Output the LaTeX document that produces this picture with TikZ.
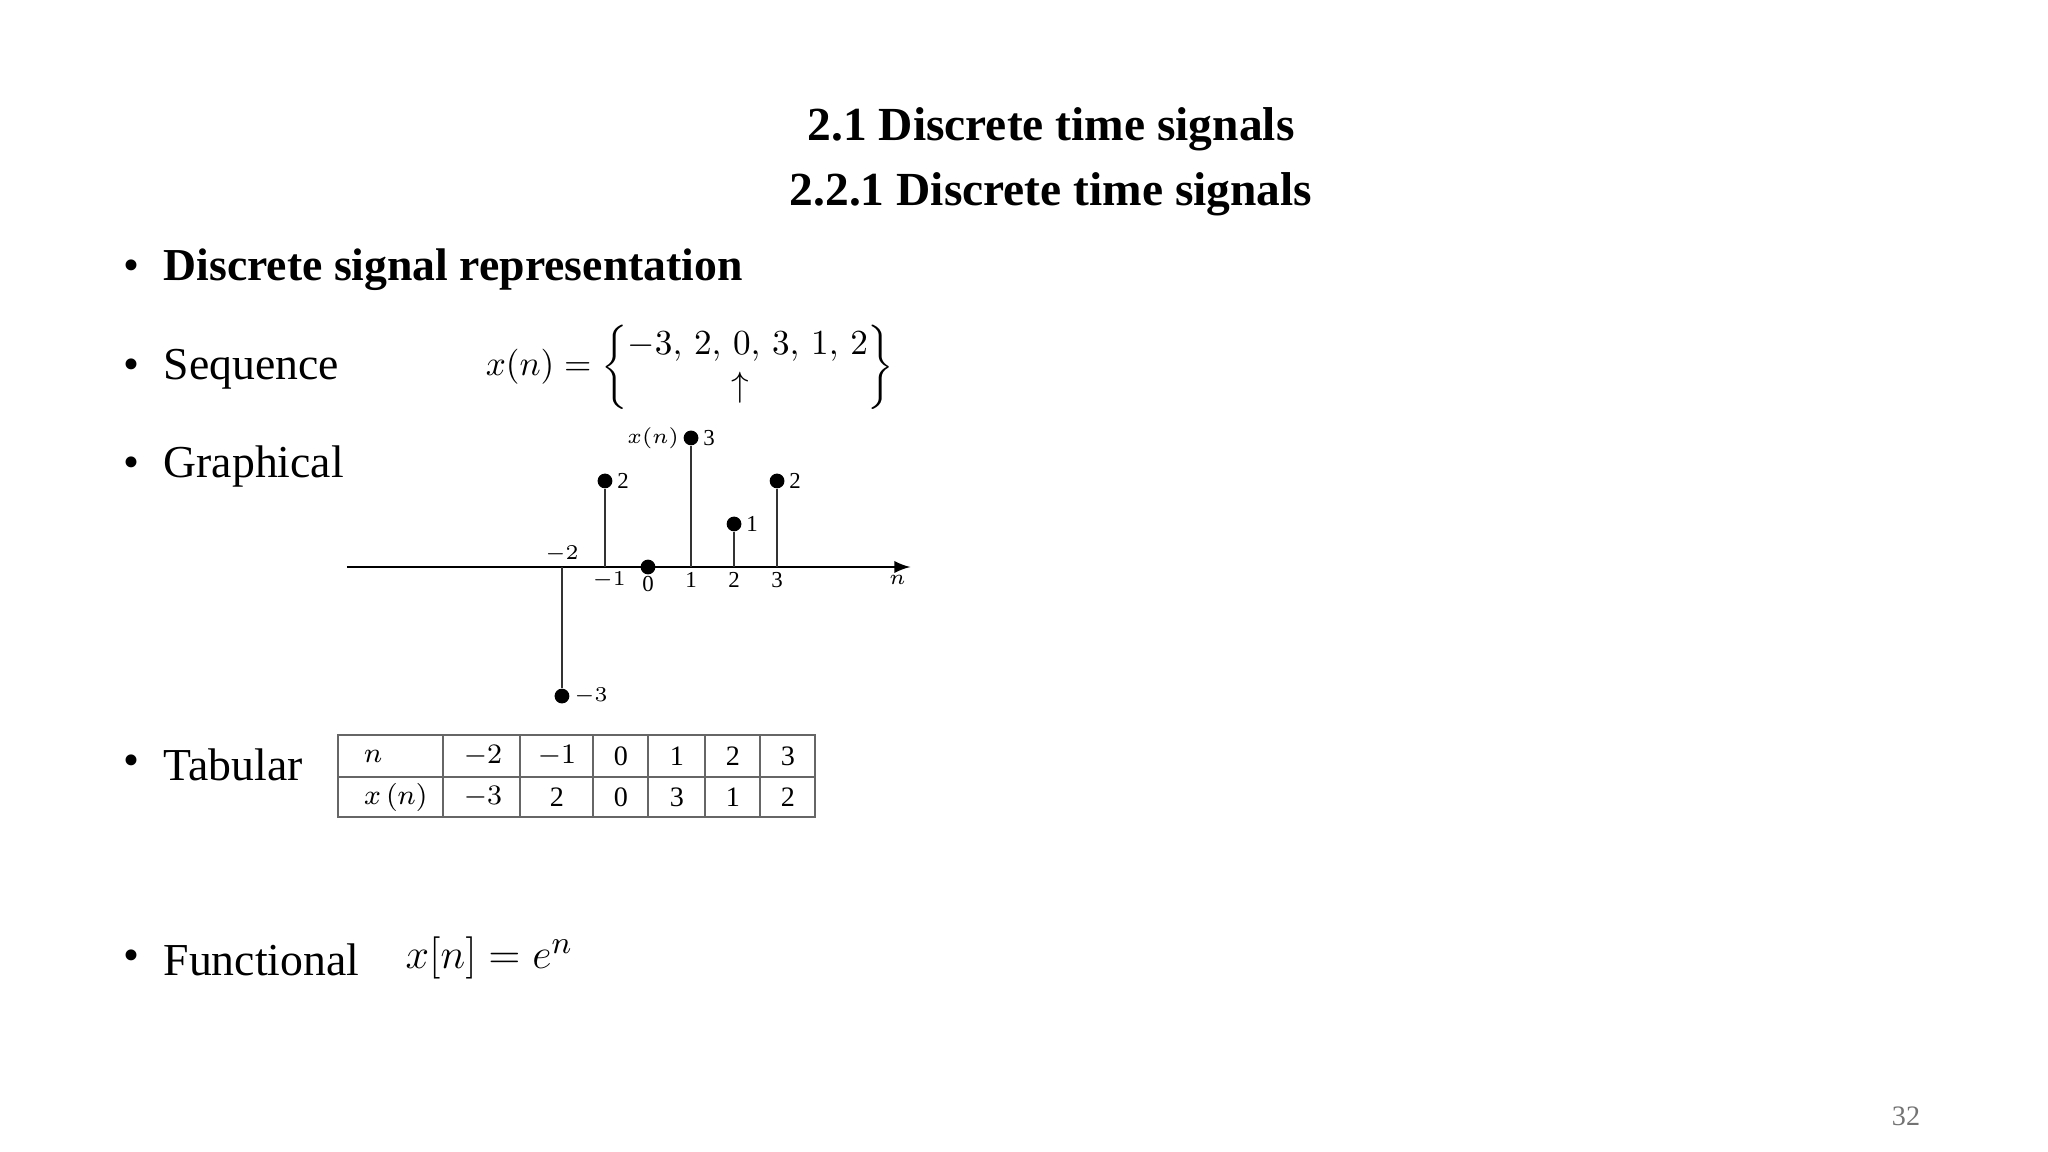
\documentclass[tikz,border=0pt]{standalone}
\usepackage{fontspec}
\setmainfont{Liberation Serif}
\usepackage{amsmath}
\begin{document}
\begin{tikzpicture}[x=0.01cm,y=-0.01cm,
  body/.style={anchor=west,font=\fontsize{13}{15}\selectfont,inner sep=0},
  ttl/.style={font=\bfseries\fontsize{13.5}{16}\selectfont,inner sep=0},
  blt/.style={font=\fontsize{13}{15}\selectfont,inner sep=0},
  sm/.style={font=\fontsize{6.5}{8}\selectfont,inner sep=1pt},
  stem/.style={line width=0.6pt,black!80},
  dot/.style={circle,fill=black,inner sep=0,minimum size=4.2pt},
  grid/.style={draw=black!60,line width=0.6pt}]
\useasboundingbox (0,0) rectangle (2048,1152);
\node[ttl] (t1) at (1051,129) {2.1 Discrete time signals};
\node[ttl] (t2) at (1051,194) {2.2.1 Discrete time signals};
\foreach \y/\t/\n in {270/{\bfseries Discrete signal representation}/a,369/Sequence/b,467/Graphical/c,765/Tabular/d,960/Functional/e}{
  \node[blt] (bul\n) at (131,\y) {•};
  \node[body] (lab\n) at (163,\y) {\t};
}
% sequence
\node[font=\fontsize{10}{12}\selectfont,inner sep=0] (seq) at (690,367) {$x(n)=\left\{\begin{matrix}-3,\,2,\,0,\,3,\,1,\,2\\ \uparrow\ \,\end{matrix}\right\}$};
% graph
\begin{scope}[shift={(648,567)},x=0.43cm,y=0.43cm]
  \coordinate (a0) at (-7,0);
  \coordinate (a1) at (6.1,0);
  \draw[line width=0.6pt,-latex] (a0) -- (a1);
  \foreach \n/\v in {-2/-3,-1/2,0/0,1/3,2/1,3/2}{
    \coordinate (b\n) at (\n,0);
    \node[dot] (d\n) at (\n,\v) {};
    \draw[stem] (b\n) -- (d\n);
  }
  \node[sm,anchor=west] (v1) at (d-2.east) {$-3$};
  \node[sm,anchor=west] (v2) at (d-1.east) {2};
  \node[sm,anchor=west] (v3) at (d1.east) {3};
  \node[sm,anchor=west] (v4) at (d2.east) {1};
  \node[sm,anchor=west] (v5) at (d3.east) {2};
  \node[sm,anchor=east] (xn) at (d1.west) {$x(n)$};
  \node[sm] (l-2) at (-2,0.3) {$-2$};
  \node[sm] (l-1) at (-0.9,-0.3) {$-1$};
  \node[sm] (l0) at (0,-0.4) {0};
  \node[sm] (l1) at (0,-0.3) {};
  \node[sm] (m1) at (1,-0.3) {1};
  \node[sm] (m2) at (2,-0.3) {2};
  \node[sm] (m3) at (3,-0.3) {3};
  \node[sm] (ln) at (5.8,-0.3) {$n$};
\end{scope}
% table
\draw[grid] (338,735) rectangle (815,817);
\draw[grid] (338,777) -- (815,777);
\foreach \x in {443,520,593,648,705,760}{\draw[grid] (\x,735) -- (\x,817);}
\foreach \x/\a/\b in {483/$-2$/$-3$,557/$-1$/2,621/0/0,677/1/3,733/2/1,788/3/2}{
  \node[sm,font=\fontsize{8}{10}\selectfont] at (\x,756) {\a};
  \node[sm,font=\fontsize{8}{10}\selectfont] at (\x,797) {\b};
}
\node[sm,font=\fontsize{8}{10}\selectfont,anchor=west] (tn) at (360,756) {$n$};
\node[sm,font=\fontsize{8}{10}\selectfont,anchor=west] (tx) at (360,797) {$x\,(n)$};
% functional
\node[body] (fn) at (405,958) {$x[n]=e^{n}$};
\node[font=\fontsize{8}{10}\selectfont,text=black!55] (pg) at (1906,1116) {32};
\end{tikzpicture}
\end{document}
